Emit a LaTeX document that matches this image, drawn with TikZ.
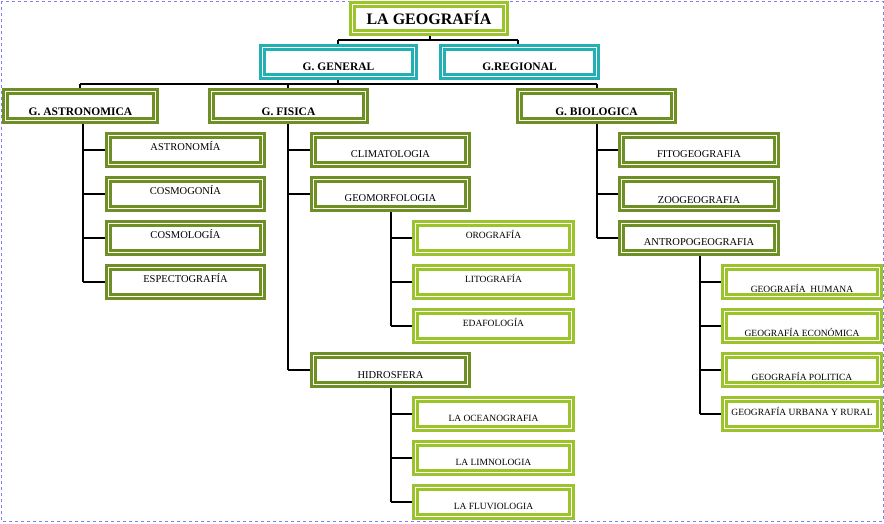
\documentclass[tikz,border=0pt]{standalone}
\usepackage{fontspec}
\setmainfont{Liberation Serif}
\definecolor{lg}{HTML}{9BC32B}
\definecolor{dg}{HTML}{6E8F24}
\definecolor{tl}{HTML}{22B0B5}
\tikzset{
 bx/.style={draw=#1, line width=2.4pt, double=white, double distance=1.8pt, fill=white, inner sep=0pt, outer sep=2.5pt},
 con/.style={line width=2pt, draw=black},
}
\newcommand{\bxx}[9]{%
 \node[bx=#6, minimum width={(#4-#2-5)*1pt}, minimum height={(#5-#3-5)*1pt}] (#1) at ({(#2+#4)/2},{-(#3+#5)/2}) {};
 \node[font=#8, inner sep=0pt] (#1t) at ([yshift=#9]#1.center) {#7};}
\begin{document}
\begin{tikzpicture}[x=1pt,y=1pt]
\useasboundingbox (0,0) rectangle (884,-523);
\draw[blue!50, dashed, line width=0.5pt] (1,-1) rectangle (883,-521);
% connectors
\coordinate (r1) at (430,-40); \coordinate (g1) at (338,-84);
\draw[con] (430,-35) -- (r1) (338,-40) -- (518,-40) (338,-40)--(338,-46) (518,-40)--(518,-46);
\draw[con] (338,-79) -- (g1) (80,-84) -- (597,-84) (80,-84)--(80,-90) (288,-84)--(288,-90) (597,-84)--(597,-90);
\draw[con] (83,-123) -- (83,-282);
\foreach \y in {150,194,238,282} \draw[con] (83,-\y) -- (108,-\y);
\draw[con] (288,-123) -- (288,-370);
\foreach \y in {150,194,370} \draw[con] (288,-\y) -- (313,-\y);
\draw[con] (391,-211) -- (391,-326);
\foreach \y in {238,282,326} \draw[con] (391,-\y) -- (415,-\y);
\draw[con] (391,-387) -- (391,-502);
\foreach \y in {414,458,502} \draw[con] (391,-\y) -- (415,-\y);
\draw[con] (597,-123) -- (597,-238);
\foreach \y in {150,194,238} \draw[con] (597,-\y) -- (621,-\y);
\draw[con] (700,-255) -- (700,-414);
\foreach \y in {282,326,370,414} \draw[con] (700,-\y) -- (724,-\y);
% boxes
\bxx{root}{350}{2}{508}{35}{lg}{LA GEOGRAFÍA}{\fontsize{16}{18}\selectfont\bfseries}{1pt}
\bxx{gen}{260}{45}{417}{79}{tl}{G. GENERAL}{\fontsize{11.5}{13}\selectfont\bfseries}{-5pt}
\bxx{reg}{440}{45}{599}{79}{tl}{G.REGIONAL}{\fontsize{11.5}{13}\selectfont\bfseries}{-5pt}
\bxx{ast}{3}{89}{158}{123}{dg}{G. ASTRONOMICA}{\fontsize{11.5}{13}\selectfont\bfseries}{-6pt}
\bxx{fis}{209}{89}{368}{123}{dg}{G. FISICA}{\fontsize{11.5}{13}\selectfont\bfseries}{-6pt}
\bxx{bio}{517}{89}{676}{123}{dg}{G. BIOLOGICA}{\fontsize{11.5}{13}\selectfont\bfseries}{-6pt}
\bxx{a1}{106}{133}{265}{167}{dg}{ASTRONOMÍA}{\fontsize{10.5}{12}\selectfont}{4pt}
\bxx{a2}{106}{177}{265}{211}{dg}{COSMOGONÍA}{\fontsize{10.5}{12}\selectfont}{4pt}
\bxx{a3}{106}{221}{265}{255}{dg}{COSMOLOGÍA}{\fontsize{10.5}{12}\selectfont}{4pt}
\bxx{a4}{106}{265}{265}{299}{dg}{ESPECTOGRAFÍA}{\fontsize{10.5}{12}\selectfont}{4pt}
\bxx{f1}{311}{133}{470}{167}{dg}{CLIMATOLOGIA}{\fontsize{10.5}{12}\selectfont}{-4pt}
\bxx{f2}{311}{177}{470}{211}{dg}{GEOMORFOLOGIA}{\fontsize{10.5}{12}\selectfont}{-4pt}
\bxx{f3}{311}{353}{470}{387}{dg}{HIDROSFERA}{\fontsize{10.5}{12}\selectfont}{-5pt}
\bxx{m1}{413}{221}{574}{255}{lg}{OROGRAFÍA}{\fontsize{9.5}{11}\selectfont}{4pt}
\bxx{m2}{413}{265}{574}{299}{lg}{LITOGRAFÍA}{\fontsize{9.5}{11}\selectfont}{4pt}
\bxx{m3}{413}{309}{574}{343}{lg}{EDAFOLOGÍA}{\fontsize{9.5}{11}\selectfont}{4pt}
\bxx{h1}{413}{397}{574}{431}{lg}{LA OCEANOGRAFIA}{\fontsize{9.5}{11}\selectfont}{-4pt}
\bxx{h2}{413}{441}{574}{475}{lg}{LA LIMNOLOGIA}{\fontsize{9.5}{11}\selectfont}{-4pt}
\bxx{h3}{413}{485}{574}{519}{lg}{LA FLUVIOLOGIA}{\fontsize{9.5}{11}\selectfont}{-4pt}
\bxx{b1}{619}{133}{779}{167}{dg}{FITOGEOGRAFIA}{\fontsize{10.5}{12}\selectfont}{-4pt}
\bxx{b2}{619}{177}{779}{211}{dg}{ZOOGEOGRAFIA}{\fontsize{10.5}{12}\selectfont}{-6pt}
\bxx{b3}{619}{221}{779}{255}{dg}{ANTROPOGEOGRAFIA}{\fontsize{10.5}{12}\selectfont}{-4pt}
\bxx{p1}{722}{265}{882}{299}{lg}{GEOGRAFÍA\ \ HUMANA}{\fontsize{9.5}{11}\selectfont}{-6pt}
\bxx{p2}{722}{309}{882}{343}{lg}{GEOGRAFÍA ECONÓMICA}{\fontsize{9.5}{11}\selectfont}{-6pt}
\bxx{p3}{722}{353}{882}{387}{lg}{GEOGRAFÍA POLITICA}{\fontsize{9.5}{11}\selectfont}{-6pt}
\bxx{p4}{722}{397}{882}{431}{lg}{GEOGRAFÍA URBANA Y RURAL}{\fontsize{9.5}{11}\selectfont}{3pt}
\end{tikzpicture}
\end{document}
